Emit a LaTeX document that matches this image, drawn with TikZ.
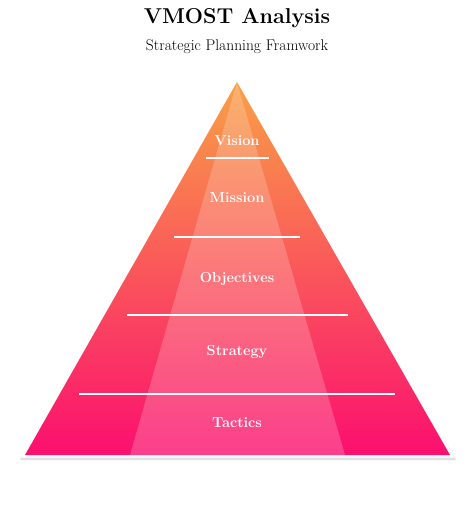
\documentclass[tikz,border=0pt]{standalone}
\usepackage{tikz}

\definecolor{pyrtop}{HTML}{F9A046}
\definecolor{pyrbottom}{HTML}{FB0F6F}

\tikzset{
    levellabel/.style={text=white, font=\fontsize{14.5}{17}\selectfont\bfseries},
    levelsep/.style={draw=white, line width=1.6pt},
}

\begin{document}
\begin{tikzpicture}[x=1pt,y=-1pt]
    \useasboundingbox (0,0) rectangle (474,505);
    \newcommand\levelline[4]{% {<name>}{<y>}{<x-left>}{<x-right>}
        \coordinate (#1-l) at (#3,#2);
        \coordinate (#1-r) at (#4,#2);
        \draw[levelsep] (#1-l) -- (#1-r);
    }

    % title
    \node (title) at (237,18) {\fontsize{21.5}{26}\selectfont\bfseries VMOST Analysis};
    \node (subtitle) at (237,47) {\fontsize{15.5}{18}\selectfont Strategic Planning Framwork};

    % pyramid corners
    \coordinate (apex) at (237,82);
    \coordinate (base-l) at (25,455);
    \coordinate (base-r) at (450,455);

    % shadow and white rim
    \fill[black, opacity=0.12] ([shift={(0,-2)}]apex) -- ([shift={(-5,5)}]base-l) -- ([shift={(6,5)}]base-r) -- cycle;
    \draw[white, line width=5pt, line join=miter] (apex) -- (base-l) -- (base-r) -- cycle;
    \shade[top color=pyrtop, bottom color=pyrbottom] (apex) -- (base-l) -- (base-r) -- cycle;

    % light band in the middle
    \fill[white, opacity=0.2] (apex) -- (130,455) -- (345,455) -- cycle;

    % separators
    \levelline{sepA}{158}{206}{269}
    \levelline{sepB}{237}{174}{300}
    \levelline{sepC}{315}{127}{348}
    \levelline{sepD}{394}{79}{395}

    % labels
    \node[levellabel] (vision) at (237,141) {Vision};
    \node[levellabel] (mission) at (237,198) {Mission};
    \node[levellabel] (objectives) at (237,279) {Objectives};
    \node[levellabel] (strategy) at (237,352) {Strategy};
    \node[levellabel] (tactics) at (237,423) {Tactics};
\end{tikzpicture}
\end{document}
